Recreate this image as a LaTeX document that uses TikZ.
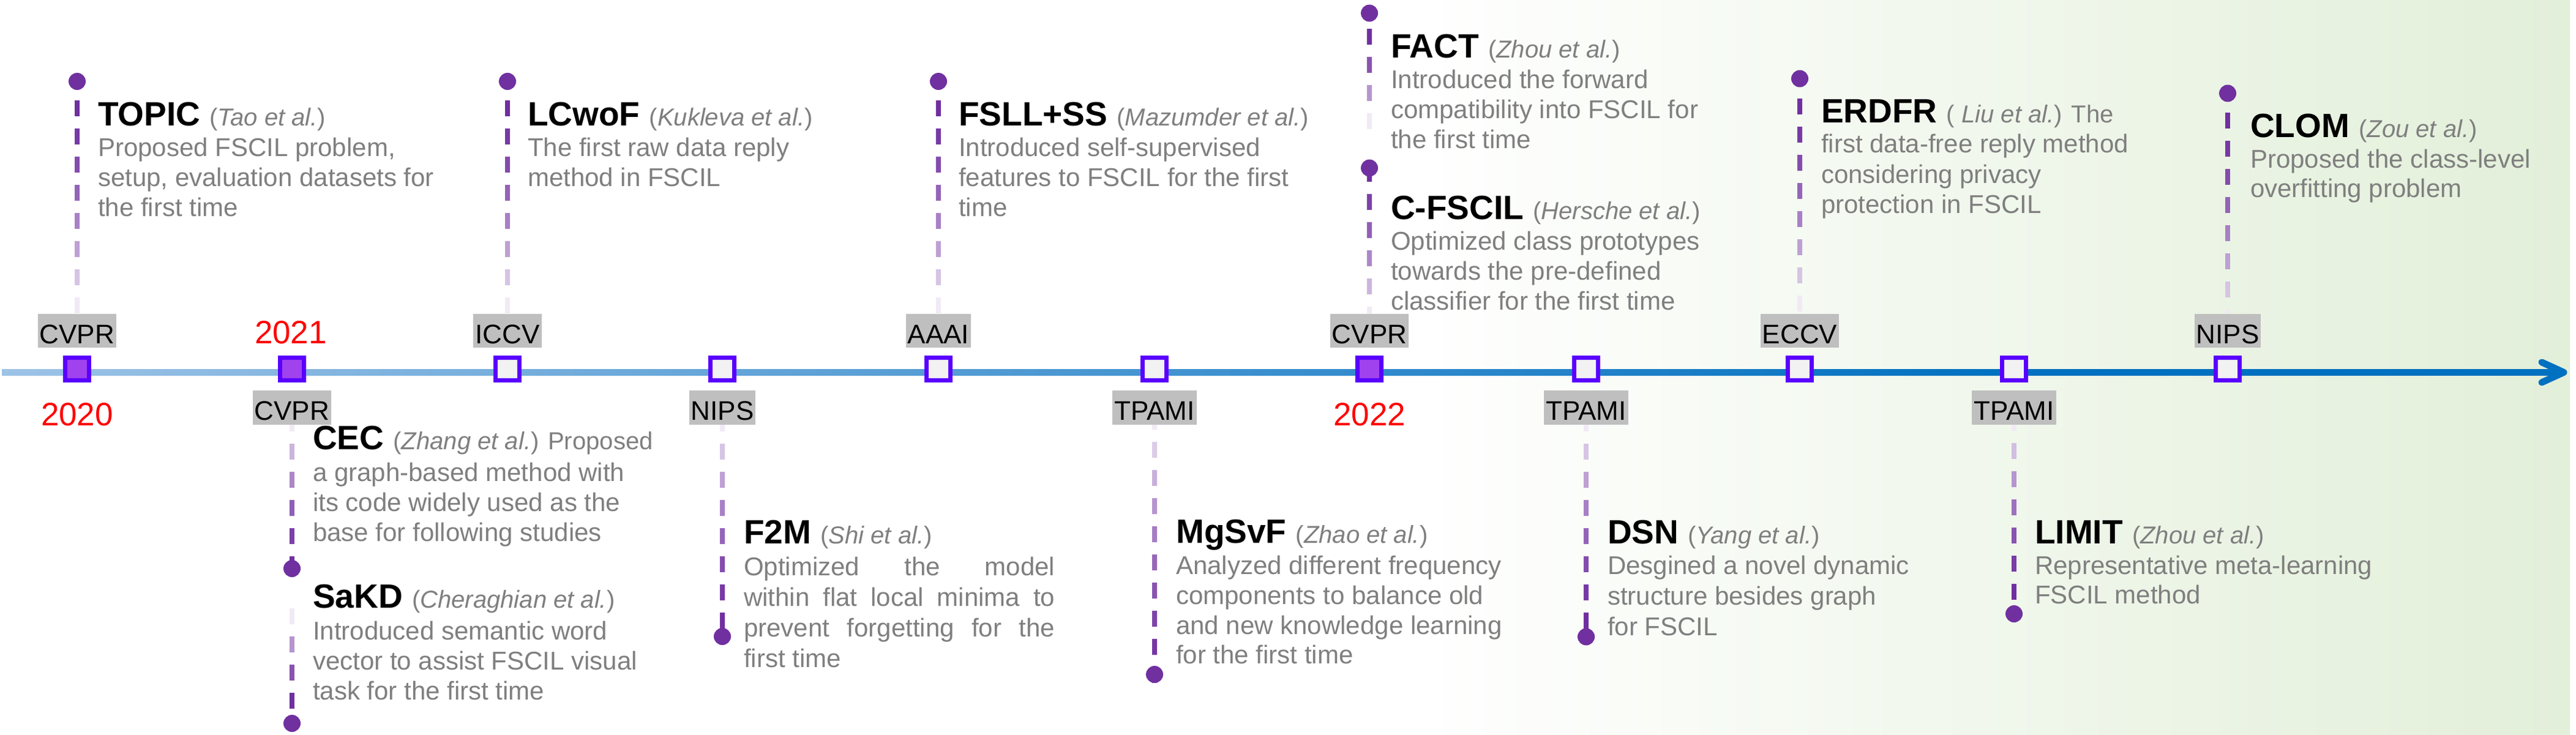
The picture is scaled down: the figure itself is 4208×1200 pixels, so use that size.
\documentclass[tikz,border=0pt]{standalone}
\usepackage{fontspec}
\setmainfont{Liberation Sans}
\usetikzlibrary{calc}
\definecolor{bggreen}{HTML}{E2EFD9}
\definecolor{axL}{HTML}{9DC3E6}
\definecolor{axR}{HTML}{0070C0}
\definecolor{sqborder}{HTML}{5A00FF}
\definecolor{sqfill}{HTML}{A042EE}
\definecolor{sqlight}{HTML}{F2F2F2}
\definecolor{dotpurple}{HTML}{7030A0}
\definecolor{boxgray}{HTML}{BFBFBF}
\definecolor{descgray}{HTML}{7F7F7F}
\newcommand\aut[1]{{\fontsize{40}{48}\selectfont\mdseries\color{descgray}#1}}
\newcommand\gdash[4]{%
  \pgfmathtruncatemacro\gdN{#4-1}%
  \foreach \k in {0,...,\gdN}{%
    \pgfmathsetmacro\gdT{\k/max(\gdN,1)}%
    \pgfmathsetmacro\gdP{100-90*\gdT*sqrt(\gdT)}%
    \pgfmathsetmacro\gdA{#2+#3*46*\k}%
    \pgfmathsetmacro\gdB{\gdA+#3*26}%
    \draw[dashseg, draw=dotpurple!\gdP!white] ($(#1)+(0,\gdA)$) -- ($(#1)+(0,\gdB)$);
  }}
\begin{document}
\begin{tikzpicture}[x=1pt,y=-1pt,
  ttl/.style={anchor=base west, inner sep=0pt, font=\fontsize{55}{60}\selectfont\bfseries},
  dsc/.style={anchor=base west, inner sep=0pt, text=descgray, font=\fontsize{42}{49}\selectfont},
  venue/.style={fill=boxgray, inner xsep=3pt, inner ysep=0pt, text height=48.5pt, text depth=6.7pt, font=\fontsize{44}{50}\selectfont},
  year/.style={text=red, anchor=base, inner sep=0pt, font=\fontsize{53}{60}\selectfont},
  sqfull/.style={draw=sqborder, fill=sqfill, line width=7pt, minimum width=39pt, minimum height=37pt, inner sep=0pt},
  sqhollow/.style={sqfull, fill=sqlight},
  dot/.style={circle, fill=dotpurple, minimum size=28pt, inner sep=0pt},
  dashseg/.style={line width=7.5pt, line cap=butt}]
\useasboundingbox (0,0) rectangle (4208,1200);
% background
\fill[white] (0,0) rectangle (4208,1200);
\shade[left color=white, right color=bggreen] (2300,0) rectangle (4198,1200);
% axis
\coordinate (axS) at (3,608.4);
\coordinate (axM) at (3300,608.4);
\coordinate (axE) at (4188,608.4);
\shade[left color=axL, right color=axR] ($(axS)+(0,-5.1)$) rectangle ($(axM)+(0,5.1)$);
\fill[axR] ($(axM)+(0,-5.1)$) rectangle ($(axE)+(-4,5.1)$);
\draw[axR, line width=11pt, line cap=round, line join=round] ($(axE)+(-36,-16.5)$) -- (axE) -- ($(axE)+(-36,16.5)$);
% dots
\node[dot] (pTOPIC) at (126,133) {};
\node[dot] (pLCwoF) at (829,133) {};
\node[dot] (pFSLL) at (1533,133) {};
\node[dot] (pFACT) at (2237,21.5) {};
\node[dot] (pCFSCIL) at (2237,274.5) {};
\node[dot] (pERDFR) at (2940,128.5) {};
\node[dot] (pCLOM) at (3639,152.5) {};
\node[dot] (pCEC) at (477,929) {};
\node[dot] (pSaKD) at (477,1182) {};
\node[dot] (pF2M) at (1180,1040) {};
\node[dot] (pMgSvF) at (1886,1102) {};
\node[dot] (pDSN) at (2591,1040.5) {};
\node[dot] (pLIMIT) at (3290,1003) {};
% fading dashed connectors
\gdash{pTOPIC}{31}{1}{8}
\gdash{pLCwoF}{31}{1}{8}
\gdash{pFSLL}{31}{1}{8}
\gdash{pFACT}{25.5}{1}{4}
\gdash{pCFSCIL}{-3.5}{1}{6}
\gdash{pERDFR}{32}{1}{8}
\gdash{pCLOM}{31.5}{1}{8}
\gdash{pCEC}{5.6}{-1}{6}
\gdash{pSaKD}{-24.5}{-1}{4}
\gdash{pF2M}{-13}{-1}{8}
\gdash{pMgSvF}{14}{-1}{10}
\gdash{pDSN}{-13.5}{-1}{8}
\gdash{pLIMIT}{-23}{-1}{7}
% venue labels
\node[venue] (v1) at (126,540.1) {CVPR};
\node[venue] (v2) at (477,665.9) {CVPR};
\node[venue] (v3) at (829,540.1) {ICCV};
\node[venue] (v4) at (1180,665.9) {NIPS};
\node[venue] (v5) at (1533,540.1) {AAAI};
\node[venue] (v6) at (1886,665.9) {TPAMI};
\node[venue] (v7) at (2237,540.1) {CVPR};
\node[venue] (v8) at (2591,665.9) {TPAMI};
\node[venue] (v9) at (2940,540.1) {ECCV};
\node[venue] (v10) at (3290,665.9) {TPAMI};
\node[venue] (v11) at (3639,540.1) {NIPS};
% squares
\node[sqfull]   (s1)  at (126,603)  {};
\node[sqfull]   (s2)  at (477,603)  {};
\node[sqhollow] (s3)  at (829,603)  {};
\node[sqhollow] (s4)  at (1180,603) {};
\node[sqhollow] (s5)  at (1533,603) {};
\node[sqhollow] (s6)  at (1886,603) {};
\node[sqfull]   (s7)  at (2237,603) {};
\node[sqhollow] (s8)  at (2591,603) {};
\node[sqhollow] (s9)  at (2940,603) {};
\node[sqhollow] (s10) at (3290,603) {};
\node[sqhollow] (s11) at (3639,603) {};
% years
\node[year] (y2020) at (126,695) {2020};
\node[year] (y2021) at (475,561) {2021};
\node[year] (y2022) at (2237,695) {2022};
% TOPIC
\node[ttl] (tTOPIC) at (160,205) {TOPIC \aut{(\textit{Tao et al.})}};
\node[dsc] (dTOPIC1) at (160,255) {Proposed FSCIL problem,};
\node[dsc] (dTOPIC2) at (160,304) {setup, evaluation datasets for};
\node[dsc] (dTOPIC3) at (160,353) {the first time};
% LCwoF
\node[ttl] (tLCwoF) at (862,205) {LCwoF \aut{(\textit{Kukleva et al.})}};
\node[dsc] (dLCwoF1) at (862,255) {The first raw data reply};
\node[dsc] (dLCwoF2) at (862,304) {method in FSCIL};
% FSLL+SS
\node[ttl] (tFSLL) at (1566,205) {FSLL+SS \aut{(\textit{Mazumder et al.})}};
\node[dsc] (dFSLL1) at (1566,255) {Introduced self-supervised};
\node[dsc] (dFSLL2) at (1566,304) {features to FSCIL for the first};
\node[dsc] (dFSLL3) at (1566,353) {time};
% FACT
\node[ttl] (tFACT) at (2272,94) {FACT \aut{(\textit{Zhou et al.})}};
\node[dsc] (dFACT1) at (2272,144) {Introduced the forward};
\node[dsc] (dFACT2) at (2272,193) {compatibility into FSCIL for};
\node[dsc] (dFACT3) at (2272,242) {the first time};
% C-FSCIL
\node[ttl] (tCFSCIL) at (2272,358.5) {C-FSCIL \aut{(\textit{Hersche et al.})}};
\node[dsc] (dCFSCIL1) at (2272,408.5) {Optimized class prototypes};
\node[dsc] (dCFSCIL2) at (2272,457.5) {towards the pre-defined};
\node[dsc] (dCFSCIL3) at (2272,506.5) {classifier for the first time};
% ERDFR
\node[ttl] (tERDFR) at (2975,200) {ERDFR \aut{( \textit{Liu et al.}) The}};
\node[dsc] (dERDFR1) at (2975,249) {first data-free reply method};
\node[dsc] (dERDFR2) at (2975,299) {considering privacy};
\node[dsc] (dERDFR3) at (2975,348) {protection in FSCIL};
% CLOM
\node[ttl] (tCLOM) at (3676,224.5) {CLOM \aut{(\textit{Zou et al.})}};
\node[dsc] (dCLOM1) at (3676,274) {Proposed the class-level};
\node[dsc] (dCLOM2) at (3676,322.5) {overfitting problem};
% CEC
\node[ttl] (tCEC) at (511,734.5) {CEC \aut{(\textit{Zhang et al.}) Proposed}};
\node[dsc] (dCEC1) at (511,786) {a graph-based method with};
\node[dsc] (dCEC2) at (511,835) {its code widely used as the};
\node[dsc] (dCEC3) at (511,884) {base for following studies};
% SaKD
\node[ttl] (tSaKD) at (511,993.5) {SaKD \aut{(\textit{Cheraghian et al.})}};
\node[dsc] (dSaKD1) at (511,1045) {Introduced semantic word};
\node[dsc] (dSaKD2) at (511,1094) {vector to assist FSCIL visual};
\node[dsc] (dSaKD3) at (511,1143) {task for the first time};
% F2M
\node[ttl] (tF2M) at (1215,888) {F2M \aut{(\textit{Shi et al.})}};
\node[dsc] (dF2M1) at (1215,940) {\makebox[508pt][s]{Optimized the model}};
\node[dsc] (dF2M2) at (1215,990) {\makebox[508pt][s]{within flat local minima to}};
\node[dsc] (dF2M3) at (1215,1040) {\makebox[508pt][s]{prevent forgetting for the}};
\node[dsc] (dF2M4) at (1215,1090) {first time};
% MgSvF
\node[ttl] (tMgSvF) at (1921,887) {MgSvF \aut{(\textit{Zhao et al.})}};
\node[dsc] (dMgSvF1) at (1921,938.5) {Analyzed different frequency};
\node[dsc] (dMgSvF2) at (1921,987.5) {components to balance old};
\node[dsc] (dMgSvF3) at (1921,1036) {and new knowledge learning};
\node[dsc] (dMgSvF4) at (1921,1084.5) {for the first time};
% DSN
\node[ttl] (tDSN) at (2626,888) {DSN \aut{(\textit{Yang et al.})}};
\node[dsc] (dDSN1) at (2626,938.5) {Desgined a novel dynamic};
\node[dsc] (dDSN2) at (2626,988) {structure besides graph};
\node[dsc] (dDSN3) at (2626,1038) {for FSCIL};
% LIMIT
\node[ttl] (tLIMIT) at (3324,888) {LIMIT \aut{(\textit{Zhou et al.})}};
\node[dsc] (dLIMIT1) at (3324,938.5) {Representative meta-learning};
\node[dsc] (dLIMIT2) at (3324,986) {FSCIL method};
\end{tikzpicture}
\end{document}
